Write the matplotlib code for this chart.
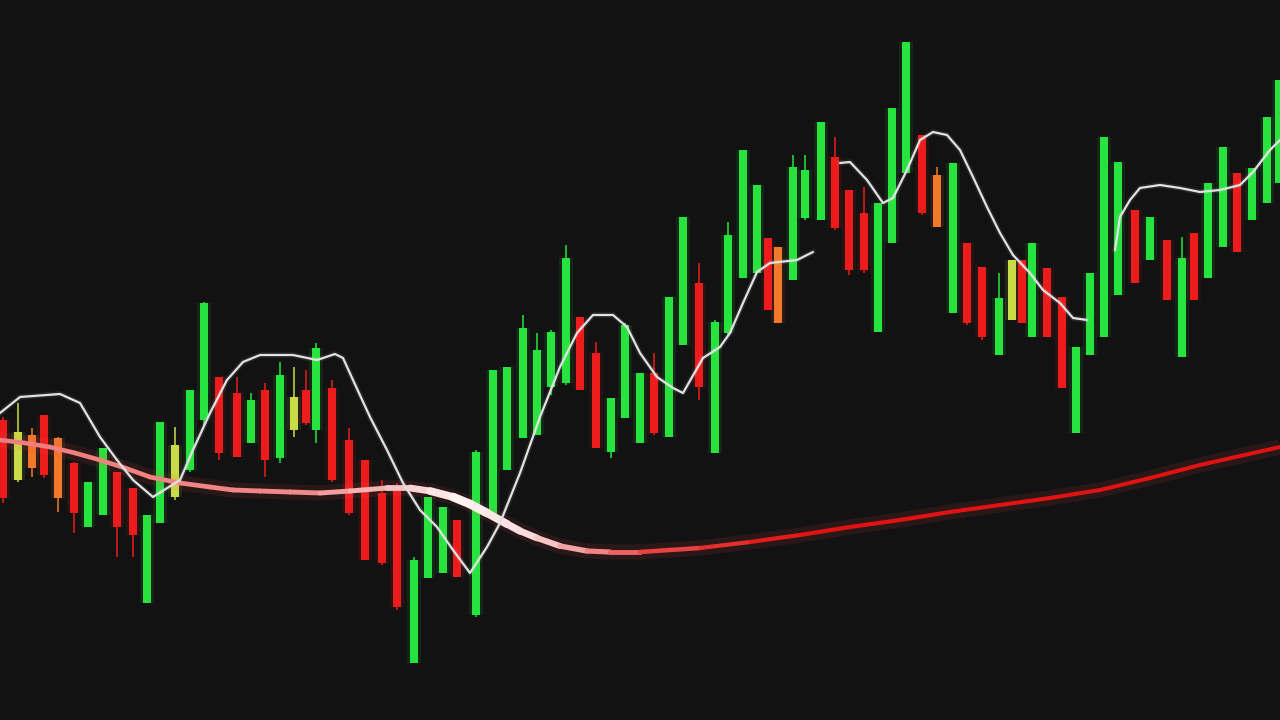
import numpy as np
import matplotlib
matplotlib.use("Agg")
import matplotlib.pyplot as plt
from matplotlib.collections import LineCollection
from matplotlib.colors import to_rgb

# candle time positions and prices (high, body top, body bottom, low)
t = [3, 18, 32, 44, 58, 74, 88, 103, 117, 133, 147, 160, 175, 190, 204, 219, 237, 251, 265, 280,
     294, 306, 316, 332, 349, 365, 382, 397, 414, 428, 443, 457, 476, 493, 507, 523, 537, 551, 566, 580,
     596, 611, 625, 640, 654, 669, 683, 699, 715, 728, 743, 757, 768, 778, 793, 805, 821, 835, 849, 864,
     878, 892, 906, 922, 937, 953, 967, 982, 999, 1012, 1022, 1032, 1047, 1062, 1076, 1090, 1104, 1118, 1135, 1150,
     1167, 1182, 1194, 1208, 1223, 1237, 1252, 1267, 1279]
high = [303, 317, 292, 305, 283, 258, 238, 272, 248, 232, 205, 298, 293, 330, 418, 343, 343, 327, 337, 358,
        353, 350, 377, 340, 292, 260, 240, 237, 163, 223, 213, 200, 270, 350, 353, 405, 387, 390, 475, 403,
        378, 322, 397, 347, 367, 423, 503, 457, 400, 498, 570, 535, 482, 473, 565, 565, 598, 583, 530, 533,
        517, 612, 678, 585, 553, 557, 477, 453, 447, 460, 460, 477, 452, 423, 373, 447, 583, 558, 510, 503,
        480, 483, 487, 537, 573, 547, 552, 603, 640]
top = [300, 288, 285, 305, 282, 257, 238, 272, 248, 232, 205, 298, 275, 330, 417, 343, 327, 320, 330, 345,
       323, 330, 372, 332, 280, 260, 227, 232, 160, 223, 213, 200, 268, 350, 353, 392, 370, 388, 462, 403,
       367, 322, 395, 347, 347, 423, 503, 437, 398, 485, 570, 535, 482, 473, 553, 550, 598, 563, 530, 507,
       517, 612, 678, 585, 545, 557, 477, 453, 422, 460, 460, 477, 452, 423, 373, 447, 583, 558, 510, 503,
       480, 462, 487, 537, 573, 547, 552, 603, 640]
bottom = [222, 240, 252, 245, 222, 207, 193, 205, 193, 185, 117, 197, 223, 250, 300, 267, 263, 277, 260, 262,
          290, 297, 290, 240, 207, 160, 157, 113, 57, 142, 147, 143, 105, 203, 250, 282, 285, 333, 337, 330,
          272, 268, 302, 277, 287, 283, 375, 333, 267, 387, 442, 447, 410, 397, 440, 502, 500, 492, 450, 450,
          388, 477, 547, 507, 493, 407, 397, 383, 365, 400, 397, 383, 383, 332, 287, 365, 383, 425, 437, 460,
          420, 363, 420, 442, 473, 468, 500, 517, 537]
low = [217, 238, 243, 242, 208, 187, 193, 205, 163, 163, 117, 197, 220, 248, 295, 260, 263, 277, 243, 257,
       283, 295, 277, 238, 205, 160, 155, 110, 57, 142, 147, 143, 103, 203, 250, 282, 285, 325, 335, 330,
       272, 262, 302, 277, 285, 283, 375, 320, 267, 385, 442, 447, 410, 397, 440, 500, 500, 490, 445, 447,
       388, 477, 547, 505, 493, 407, 395, 380, 365, 400, 397, 383, 383, 332, 287, 365, 383, 425, 437, 460,
       420, 363, 420, 442, 473, 468, 500, 517, 537]
# g = up, r = down, y / o = washed-out up / down candles
kind = "ryororggrrggyggrrgrgyrgrrrrrgggrgggggggrrgggrggrggggrogggrrrgggrogrrgyrgrrggggrgrgrggrggg"

# short moving average (white) and long moving average (red)
fast_t = [0, 20, 60, 80, 100, 117, 133, 153, 180, 193, 210, 227, 243, 260, 293, 317, 335, 343, 353, 370,
          387, 403, 420, 437, 453, 470, 487, 500, 520, 540, 560, 577, 593, 613, 627, 640, 657, 673, 683, 703,
          720, 730, 743, 757, 770, 797, 813, np.nan, 840, 850, 867, 883, 893, 907, 920, 933, 947, 960, 973, 987,
          1000, 1013, 1030, 1043, 1060, 1073, 1087, np.nan, 1115, 1120, 1130, 1140, 1160, 1180, 1200, 1220, 1240, 1253, 1270, 1280]
fast_ma = [307, 323, 326, 317, 283, 260, 240, 223, 240, 270, 307, 340, 358, 365, 365, 360, 366, 362, 340, 303,
           270, 237, 210, 193, 170, 147, 173, 197, 247, 303, 353, 387, 405, 405, 393, 367, 343, 332, 327, 362,
           373, 387, 417, 448, 457, 460, 468, np.nan, 557, 558, 540, 517, 522, 550, 580, 588, 585, 570, 543, 513,
           487, 465, 447, 430, 417, 402, 400, np.nan, 470, 503, 520, 532, 535, 532, 528, 530, 535, 548, 570, 580]
slow_t = [0, 25, 50, 75, 100, 125, 150, 180, 210, 233, 260, 290, 320, 350, 387, 410, 430, 453, 470, 487,
          507, 520, 537, 560, 587, 610, 640, 700, 750, 800, 850, 900, 950, 1000, 1050, 1100, 1150, 1200, 1240, 1280]
slow_ma = [280, 277, 273, 267, 260, 252, 243, 237, 233, 230, 229, 228, 227, 229, 232, 232, 229, 223, 216, 207,
           196, 189, 182, 174, 169, 168, 168, 172, 178, 185, 193, 200, 208, 215, 222, 230, 242, 255, 264, 273]

BG = "#121212"
COLORS = {"g": "#26e33e", "r": "#ec1c1c", "o": "#f2782a", "y": "#c9dc45"}

fig = plt.figure(figsize=(12.8, 7.2), dpi=100, facecolor=BG)
ax = fig.add_axes([0, 0, 1, 1])
ax.set_facecolor(BG)
ax.set_xlim(0, 1280)
ax.set_ylim(0, 720)
ax.axis("off")

cols = [COLORS[k] for k in kind]
heights = [a - b for a, b in zip(top, bottom)]

# glow, wicks, bodies
ax.bar(t, heights, bottom=bottom, width=14, color=cols, alpha=0.10, zorder=1)
ax.vlines(t, low, high, colors=cols, lw=1.4, alpha=0.8, zorder=2)
ax.bar(t, heights, bottom=bottom, width=8.5, color=cols, zorder=3)

# long MA: soft glow, then gradient from whitish pink to red
ax.plot(slow_t, slow_ma, color="#ff5050", lw=11, alpha=0.10, zorder=4, solid_capstyle="butt")
pts = np.column_stack([slow_t, slow_ma])
segs = np.stack([pts[:-1], pts[1:]], axis=1)
mid = (pts[:-1, 0] + pts[1:, 0]) / 2
w = np.interp(mid, [0, 300, 400, 460, 530, 640, 800], [0.45, 0.5, 0.75, 0.95, 0.85, 0.25, 0.0])
red = np.array(to_rgb("#e31212"))
seg_cols = [tuple(red * (1 - k) + np.ones(3) * k) for k in w]
width = np.interp(mid, [0, 380, 470, 560, 700, 1280], [3.2, 3.6, 6.5, 4.0, 3.0, 2.8])
ax.add_collection(LineCollection(segs, colors=seg_cols, linewidths=width, capstyle="round",
                                 joinstyle="round", zorder=5))

# short MA
ax.plot(fast_t, fast_ma, color="#dcdcdc", lw=4, alpha=0.10, zorder=6)
ax.plot(fast_t, fast_ma, color="#e2e2e2", lw=1.6, zorder=7, solid_capstyle="round")

fig.savefig("out.png", dpi=100, facecolor=BG)
